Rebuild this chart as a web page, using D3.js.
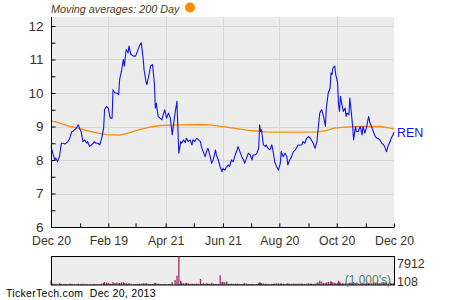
<!DOCTYPE html>
<html>
<head>
<meta charset="utf-8">
<script src="https://cdn.jsdelivr.net/npm/d3@7"></script>
<style>
  body { margin: 0; background: #fff; }
  svg text { font-family: "Liberation Sans", Arial, sans-serif; }
</style>
</head>
<body>
<div id="chart"></div>
<script>
// days since Dec 20 2012
const days = [
  0,2,4,5,7,9,10,11,13,15,
  16,18,20,22,23,25,27,29,31,32,
  34,36,38,39,41,43,45,46,48,50,
  52,54,56,57,59,61,63,65,66,68,
  70,72,73,75,77,78,80,82,83,85,
  88,90,92,94,96,98,99,101,102,104,
  106,108,110,111,112,114,116,118,119,121,
  123,125,127,129,132,134,136,138,139,141,
  143,144,146,148,150,151,153,155,157,159,
  160,162,164,166,167,169,171,173,175,176,
  178,180,182,183,185,187,189,190,192,194,
  196,198,199,201,203,205,206,208,210,212,
  214,215,217,219,221,222,223,224,226,228,
  229,231,233,235,237,238,240,242,244,245,
  247,249,251,252,254,256,258,260,261,263,
  265,267,268,270,272,274,276,277,279,281,
  283,284,286,288,290,292,293,295,297,298,
  299,300,302,303,305,306,307,308,310,311,
  313,314,315,317,318,320,321,322,324,325,
  327,329,331,332,334,336,338,339,341,343,
  345,347,348,350,352,354,355,357,359,361,
  362,364,365
];
const price = [
  8.40,8.20,8.00,8.06,7.95,8.10,8.30,8.50,8.50,8.48,
  8.50,8.55,8.65,8.85,8.85,8.90,8.95,9.05,8.90,8.85,
  8.55,8.60,8.50,8.55,8.40,8.45,8.50,8.55,8.50,8.50,
  8.45,8.65,8.95,9.50,9.60,9.55,9.25,9.25,10.10,10.00,
  10.00,9.95,10.40,10.65,11.00,10.80,11.30,11.20,11.40,11.15,
  11.10,11.10,11.25,11.40,11.50,11.05,10.70,10.35,10.25,10.50,
  10.80,10.85,10.30,9.55,9.70,9.30,9.25,9.20,9.30,9.50,
  9.25,9.40,9.25,8.75,9.40,9.75,8.20,8.55,8.50,8.60,
  8.52,8.65,8.55,8.60,8.45,8.60,8.55,8.65,8.60,8.55,
  8.40,8.25,8.10,8.30,8.35,8.15,7.90,8.05,8.30,8.15,
  8.00,7.80,7.65,7.75,7.70,7.80,7.85,7.80,8.00,7.95,
  8.15,8.30,8.40,8.25,8.10,8.00,7.90,8.05,8.20,8.15,
  8.00,8.15,8.15,8.20,8.35,9.05,8.85,8.90,8.45,8.40,
  8.45,8.35,8.30,8.45,8.15,7.95,7.80,7.70,7.90,8.25,
  8.10,8.20,8.10,7.85,8.00,8.10,8.25,8.30,8.35,8.45,
  8.45,8.45,8.55,8.50,8.65,8.70,8.65,8.60,8.50,8.35,
  8.55,8.85,9.40,9.50,9.30,9.00,9.55,10.00,10.15,10.60,
  10.55,10.75,10.80,10.55,10.30,9.65,9.45,9.90,9.60,9.45,
  9.55,9.30,9.40,9.35,9.85,9.30,9.00,8.60,9.00,8.85,
  8.85,9.00,8.75,9.00,8.80,9.00,9.30,9.15,9.00,8.85,
  8.70,8.65,8.65,8.60,8.50,8.45,8.40,8.25,8.45,8.55,
  8.65,8.75,8.83
];
// volume in 1000's
const volume = [
  1400,500,300,400,250,600,450,350,300,400,
  350,300,500,400,300,350,300,450,400,300,
  450,350,300,250,300,350,300,400,300,350,
  300,500,700,900,800,700,500,450,900,700,
  800,600,700,800,900,600,700,500,600,450,
  400,350,400,500,450,600,500,650,450,400,
  350,400,600,700,450,500,400,350,300,400,
  300,350,400,900,1500,2700,7912,1300,800,600,
  500,700,600,450,500,400,450,500,400,1800,
  400,600,500,600,500,450,700,500,400,350,
  400,2800,1000,1000,900,1100,450,350,500,400,
  450,500,400,350,400,450,600,500,400,350,
  400,350,300,400,600,900,700,600,500,450,
  400,350,300,400,450,500,600,550,500,600,
  450,400,500,600,450,400,500,450,400,500,
  450,500,400,450,500,600,500,450,400,500,
  600,900,1300,1000,700,600,800,1000,900,1200,
  900,800,700,600,700,1300,900,700,600,500,
  600,700,500,600,800,700,800,900,600,500,
  500,600,700,500,600,700,600,500,600,700,
  800,700,600,700,800,900,700,800,600,700,
  600,700,500
];
// 200 day moving average
const maDays = [0,7,18,29,39,50,59,73,82,93,105,116,137,159,169,187,212,228,244,265,284,293,301,313,329,350,361,365];
const maValues = [9.17,9.12,9.02,8.95,8.87,8.80,8.76,8.74,8.80,8.90,8.98,9.03,9.05,9.06,9.05,8.98,8.88,8.84,8.83,8.83,8.84,8.88,8.95,8.98,9.00,9.00,8.95,8.92];

const tickDates = ["2012-12-20","2013-01-20","2013-02-19","2013-03-20","2013-04-21","2013-05-21","2013-06-21","2013-07-21","2013-08-20","2013-09-20","2013-10-20","2013-11-20","2013-12-20"];
const tickLabels = ["Dec 20","","Feb 19","","Apr 21","","Jun 21","","Aug 20","","Oct 20","","Dec 20"];
const yTicks = [6,7,8,9,10,11,12];
const volLabels = ["7912","108"];

const width = 450, height = 300;
const start = new Date(2012, 11, 20), end = new Date(2013, 11, 20);
const parse = d3.timeParse("%Y-%m-%d");
const txtColor = "#3d3319";

const svg = d3.select("#chart").append("svg")
  .attr("width", width)
  .attr("height", height);

const x = d3.scaleTime().domain([start, end]).range([51, 394]);
const y = d3.scaleLinear().domain([6, 12]).range([227, 26]);

const series = days.map((d, i) => ({date: d3.timeDay.offset(start, d), value: price[i], vol: volume[i]}));
const ma = maDays.map((d, i) => ({date: d3.timeDay.offset(start, d), value: maValues[i]}));
const ticks = tickDates.map(parse);

// plot background
svg.append("rect")
  .attr("x", 51).attr("y", 17)
  .attr("width", 343).attr("height", 210)
  .attr("fill", "#ececec");

// gridlines
svg.append("g")
  .selectAll("line")
  .data(yTicks.slice(1))
  .join("line")
    .attr("x1", 51).attr("x2", 394)
    .attr("y1", d => Math.round(y(d)) + 0.5).attr("y2", d => Math.round(y(d)) + 0.5)
    .attr("stroke", "#d6d6d6");
svg.append("g")
  .selectAll("line")
  .data(ticks.filter((d, i) => tickLabels[i] && i > 0 && i < ticks.length - 1))
  .join("line")
    .attr("x1", d => Math.round(x(d)) + 0.5).attr("x2", d => Math.round(x(d)) + 0.5)
    .attr("y1", 17).attr("y2", 227)
    .attr("stroke", "#d6d6d6");

// moving average line
svg.append("path")
  .datum(ma)
  .attr("fill", "none")
  .attr("stroke", "#ff8c00")
  .attr("stroke-width", 1.3)
  .attr("d", d3.line().x(d => x(d.date)).y(d => y(d.value)));

// price line
svg.append("path")
  .datum(series)
  .attr("fill", "none")
  .attr("stroke", "#1414e6")
  .attr("stroke-width", 1.1)
  .attr("stroke-linejoin", "round")
  .attr("d", d3.line().x(d => x(d.date)).y(d => y(d.value)));

// axes
const yAxis = svg.append("g")
  .attr("transform", "translate(51.5,0)")
  .call(d3.axisLeft(y).tickValues(d3.range(6, 12.01, 0.5)).tickSize(-4).tickPadding(8)
    .tickFormat(d => yTicks.includes(d) ? d : ""));
yAxis.select(".domain").attr("d", "M0,17V227").attr("stroke", "#000");
yAxis.selectAll("line").attr("stroke", "#000");
yAxis.selectAll("text").attr("fill", txtColor).style("font-size", "13.5px");

const xAxis = svg.append("g")
  .attr("transform", "translate(0,227.5)")
  .call(d3.axisBottom(x).tickValues(ticks).tickSize(-4).tickPadding(9)
    .tickFormat((d, i) => tickLabels[i]));
xAxis.select(".domain").attr("d", "M51,0H394").attr("stroke", "#000");
xAxis.selectAll("line").attr("stroke", "#000");
xAxis.selectAll("text").attr("fill", txtColor).style("font-size", "12.3px");

// ticker label
const last = series[series.length - 1];
svg.append("text")
  .attr("x", 397).attr("y", y(last.value) + 5)
  .attr("fill", "#1414e6")
  .style("font-size", "12.5px")
  .text("REN");

// title
svg.append("text")
  .attr("x", 51).attr("y", 13)
  .attr("fill", "#4a3b18")
  .style("font-size", "10.8px")
  .style("font-style", "italic")
  .text("Moving averages: 200 Day");
svg.append("circle")
  .attr("cx", 190).attr("cy", 7.5).attr("r", 5)
  .attr("fill", "#ff8c00");

// volume panel
const vy = d3.scaleLinear().domain([108, 7912]).range([285, 257]);
svg.append("rect")
  .attr("x", 51.5).attr("y", 256.5)
  .attr("width", 343).attr("height", 28.5)
  .attr("fill", "#ececec");
svg.append("g")
  .selectAll("rect")
  .data(series)
  .join("rect")
    .attr("x", d => x(d.date) - 0.6)
    .attr("y", d => vy(d.vol))
    .attr("width", 1.3)
    .attr("height", d => Math.max(0, 285 - vy(d.vol)))
    .attr("fill", "#993366");
svg.append("rect")
  .attr("x", 51.5).attr("y", 256.5)
  .attr("width", 343).attr("height", 28.5)
  .attr("fill", "none")
  .attr("stroke", "#000");
svg.append("text")
  .attr("x", 391).attr("y", 284)
  .attr("text-anchor", "end")
  .attr("fill", "#4f7f6a")
  .style("font-size", "12px")
  .text("(1,000's)");
svg.append("g")
  .selectAll("text")
  .data(volLabels)
  .join("text")
    .attr("x", 397)
    .attr("y", (d, i) => i === 0 ? 268 : 286)
    .attr("fill", txtColor)
    .style("font-size", "12.5px")
    .text(d => d);

// footer
svg.append("text")
  .attr("x", 6).attr("y", 297)
  .attr("fill", "#000")
  .style("font-size", "10.5px")
  .style("letter-spacing", "0.3px")
  .style("white-space", "pre")
  .text("TickerTech.com  Dec 20, 2013");
</script>
</body>
</html>
